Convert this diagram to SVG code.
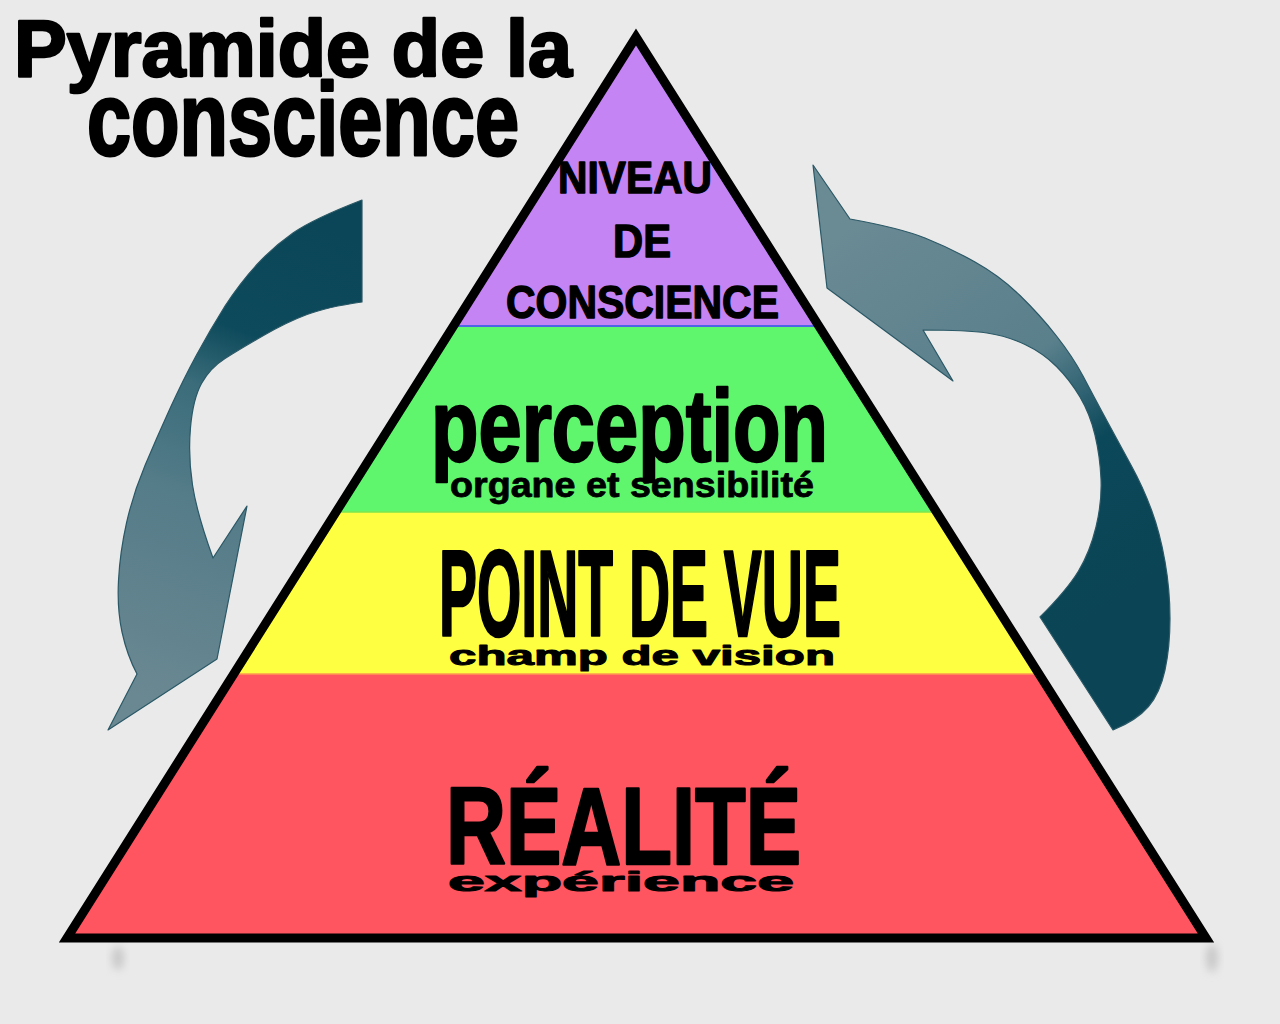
<svg xmlns="http://www.w3.org/2000/svg" width="1280" height="1024" viewBox="0 0 1280 1024">
  <style>
    .t { font-family: "Liberation Sans", Arial, sans-serif; font-weight: bold; fill: #000; stroke: #000; stroke-linejoin: round; }
    .arrow { stroke: #2a5866; stroke-width: 1.2; stroke-linejoin: round; }
  </style>
  <defs>
    <clipPath id="tri">
      <path d="M636,37 L1206,938 L67,938 Z"/>
    </clipPath>
    <linearGradient id="gLeft" gradientUnits="userSpaceOnUse" x1="330" y1="230" x2="150" y2="700">
      <stop offset="0" stop-color="#0a4657"/>
      <stop offset="0.25" stop-color="#0d4a5b"/>
      <stop offset="0.38" stop-color="#3a6c7a"/>
      <stop offset="0.6" stop-color="#557c89"/>
      <stop offset="1" stop-color="#6a8892"/>
    </linearGradient>
    <linearGradient id="gRight" gradientUnits="userSpaceOnUse" x1="860" y1="220" x2="1130" y2="600">
      <stop offset="0" stop-color="#6a8a94"/>
      <stop offset="0.45" stop-color="#5a808c"/>
      <stop offset="0.58" stop-color="#2f6272"/>
      <stop offset="0.68" stop-color="#0b4859"/>
      <stop offset="1" stop-color="#0a4455"/>
    </linearGradient>
    <filter id="blur" x="-50%" y="-50%" width="200%" height="200%">
      <feGaussianBlur stdDeviation="4"/>
    </filter>
  </defs>

  <rect x="0" y="0" width="1280" height="1024" fill="#ebeaea"/>

  <ellipse cx="118" cy="958" rx="6" ry="12" fill="#c8c8c8" filter="url(#blur)"/>
  <ellipse cx="1212" cy="958" rx="6" ry="14" fill="#c8c8c8" filter="url(#blur)"/>

  <g id="title">
    <text class="t" x="14" y="76" font-size="80" stroke-width="2.6" textLength="558" lengthAdjust="spacingAndGlyphs">Pyramide de la</text>
    <text class="t" x="87" y="155" font-size="104" stroke-width="3" textLength="432" lengthAdjust="spacingAndGlyphs">conscience</text>
  </g>

  <g id="connectors">
    <path id="arrow-left" class="arrow" fill="url(#gLeft)" d="M362,200 Q313,219 293,233 Q273,247 256.5,265 Q240,283 225,306 Q210,330 196.5,355 Q183,380 170,408.5 Q157,437 145,465.5 Q133,494 126.5,523 Q120,552 118.5,580.5 Q117,609 122,632 Q127,655 137,674 L108,730 L217,659 L247,506 L213,558 Q197,514 192.5,485 Q188,456 190.5,427.5 Q193,399 201.5,383.5 Q210,368 225,358.5 Q240,349 263.5,335.5 Q287,322 307,314.5 Q327,307 362,302 Z"/>
    <path id="arrow-right" class="arrow" fill="url(#gRight)" d="M813,165 L850,219 Q900,228 925,238 Q950,248 975,262 Q1000,276 1020,295.5 Q1040,315 1056.5,336 Q1073,357 1083,376 Q1093,395 1106.5,420 Q1120,445 1131.5,466 Q1143,487 1151.5,510 Q1160,533 1165,561.5 Q1170,590 1170,618.5 Q1170,647 1165,670 Q1160,693 1148.5,706.5 Q1137,720 1113,730 L1040,617 Q1067,590 1078.5,571 Q1090,552 1096,527 Q1102,502 1101,479 Q1100,456 1095,435 Q1090,414 1080,397 Q1070,380 1056.5,366.5 Q1043,353 1025,344.5 Q1007,336 987,333 Q967,330 923,330 L953,381 L827,288 Z"/>
  </g>

  <g id="pyramid">
    <g clip-path="url(#tri)">
      <g id="layer-niveau"><rect x="0" y="0" width="1280" height="326" fill="#c484f4"/></g>
      <g id="layer-perception"><rect x="0" y="326" width="1280" height="186" fill="#5ff66e"/></g>
      <g id="layer-point-de-vue"><rect x="0" y="512" width="1280" height="162" fill="#ffff42"/></g>
      <g id="layer-realite"><rect x="0" y="674" width="1280" height="270" fill="#ff5560"/></g>
      <line x1="0" y1="326" x2="1280" y2="326" stroke="#4f63e6" stroke-width="2"/>
      <line x1="0" y1="512" x2="1280" y2="512" stroke="#7be650" stroke-width="1.5"/>
      <line x1="0" y1="674" x2="1280" y2="674" stroke="#ff9a50" stroke-width="1.5"/>
    </g>
    <path d="M636,37 L1206,938 L67,938 Z" fill="none" stroke="#000" stroke-width="9" stroke-linejoin="miter" stroke-miterlimit="10"/>
  </g>

  <g id="node-niveau">
    <text class="t" x="558" y="193" font-size="45" stroke-width="1.4" textLength="154" lengthAdjust="spacingAndGlyphs">NIVEAU</text>
    <text class="t" x="613" y="257" font-size="46" stroke-width="1.4" textLength="58" lengthAdjust="spacingAndGlyphs">DE</text>
    <text class="t" x="506" y="318" font-size="47" stroke-width="1.4" textLength="273" lengthAdjust="spacingAndGlyphs">CONSCIENCE</text>
  </g>
  <g id="node-perception">
    <text class="t" x="431" y="461" font-size="102" stroke-width="2.4" textLength="397" lengthAdjust="spacingAndGlyphs">perception</text>
    <text class="t" x="450" y="497" font-size="35" stroke-width="0.8" textLength="364" lengthAdjust="spacingAndGlyphs">organe et sensibilité</text>
  </g>
  <g id="node-point-de-vue">
    <text class="t" x="439" y="636" font-size="122" stroke-width="2.6" textLength="402" lengthAdjust="spacingAndGlyphs">POINT DE VUE</text>
    <text class="t" x="449" y="665" font-size="27" stroke-width="1" textLength="386" lengthAdjust="spacingAndGlyphs">champ de vision</text>
  </g>
  <g id="node-realite">
    <text class="t" x="446" y="864" font-size="110" stroke-width="2.6" textLength="355" lengthAdjust="spacingAndGlyphs">RÉALITÉ</text>
    <text class="t" x="448" y="891" font-size="27" stroke-width="1" textLength="346" lengthAdjust="spacingAndGlyphs">expérience</text>
  </g>
</svg>
